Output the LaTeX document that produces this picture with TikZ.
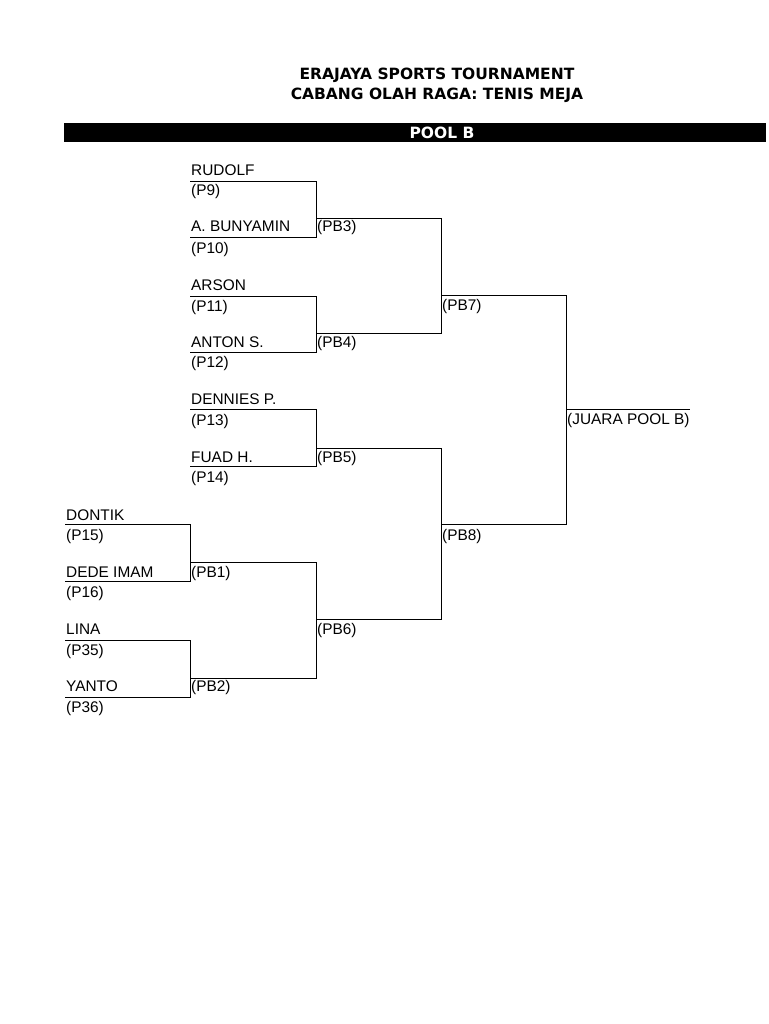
\documentclass[tikz,border=0pt]{standalone}
\usepackage{fontspec}
\setmainfont{Liberation Sans}
\newfontfamily\titlefont{DejaVu Sans}
\begin{document}
\begin{tikzpicture}[x=1pt,y=-1pt,
  lbl/.style={anchor=base west,inner sep=0pt,font=\fontsize{15.4}{18}\selectfont},
  ttl/.style={inner sep=0pt,font=\titlefont\bfseries\fontsize{15.5}{18}\selectfont},
  br/.style={line width=0.9pt,line join=miter}]
\useasboundingbox[fill=white] (0,0) rectangle (768,1024);
% title
\node[ttl] (t1) at (437,75) {ERAJAYA SPORTS TOURNAMENT};
\node[ttl] (t2) at (437,95) {CABANG OLAH RAGA: TENIS MEJA};
\fill[black] (64,123) rectangle (766,142);
\node[ttl,text=white] (pool) at (442,132.5) {POOL B};

% coordinates of bracket lines
\coordinate (a1) at (190,181); \coordinate (a2) at (316,181);
\coordinate (b1) at (190,237); \coordinate (b2) at (316,237);
\coordinate (c1) at (190,296); \coordinate (c2) at (316,296);
\coordinate (d1) at (190,352); \coordinate (d2) at (316,352);
\coordinate (e1) at (190,409); \coordinate (e2) at (316,409);
\coordinate (f1) at (190,466); \coordinate (f2) at (316,466);
\coordinate (g1) at (65,524);  \coordinate (g2) at (190,524);
\coordinate (h1) at (65,581);  \coordinate (h2) at (190,581);
\coordinate (i1) at (65,640);  \coordinate (i2) at (190,640);
\coordinate (j1) at (65,697);  \coordinate (j2) at (190,697);
\coordinate (pb1a) at (190,562); \coordinate (pb1b) at (316,562);
\coordinate (pb2a) at (190,678); \coordinate (pb2b) at (316,678);
\coordinate (pb3a) at (316,218); \coordinate (pb3b) at (441,218);
\coordinate (pb4a) at (316,333); \coordinate (pb4b) at (441,333);
\coordinate (pb5a) at (316,448); \coordinate (pb5b) at (441,448);
\coordinate (pb6a) at (316,619); \coordinate (pb6b) at (441,619);
\coordinate (pb7a) at (441,295); \coordinate (pb7b) at (566,295);
\coordinate (pb8a) at (441,524); \coordinate (pb8b) at (566,524);
\coordinate (wa) at (566,409); \coordinate (wb) at (690,409);

% brackets
\draw[br] (a1) -- (a2) -- (b2) -- (b1);
\draw[br] (c1) -- (c2) -- (d2) -- (d1);
\draw[br] (e1) -- (e2) -- (f2) -- (f1);
\draw[br] (g1) -- (g2) -- (h2) -- (h1);
\draw[br] (i1) -- (i2) -- (j2) -- (j1);
\draw[br] (pb1a) -- (pb1b) -- (pb2b) -- (pb2a);
\draw[br] (pb3a) -- (pb3b) -- (pb4b) -- (pb4a);
\draw[br] (pb5a) -- (pb5b) -- (pb6b) -- (pb6a);
\draw[br] (pb7a) -- (pb7b) -- (pb8b) -- (pb8a);
\draw[br] (wa) -- (wb);

% names
\node[lbl] (n9)  at (191,176) {RUDOLF};
\node[lbl] (p9)  at (191,196) {(P9)};
\node[lbl] (n10) at (191,232) {A. BUNYAMIN};
\node[lbl] (p10) at (191,253) {(P10)};
\node[lbl] (n11) at (191,290) {ARSON};
\node[lbl] (p11) at (191,311) {(P11)};
\node[lbl] (n12) at (191,347) {ANTON S.};
\node[lbl] (p12) at (191,367) {(P12)};
\node[lbl] (n13) at (191,404) {DENNIES P.};
\node[lbl] (p13) at (191,425) {(P13)};
\node[lbl] (n14) at (191,462) {FUAD H.};
\node[lbl] (p14) at (191,482) {(P14)};
\node[lbl] (n15) at (66,520) {DONTIK};
\node[lbl] (p15) at (66,540) {(P15)};
\node[lbl] (n16) at (66,577) {DEDE IMAM};
\node[lbl] (p16) at (66,597) {(P16)};
\node[lbl] (n35) at (66,634) {LINA};
\node[lbl] (p35) at (66,655) {(P35)};
\node[lbl] (n36) at (66,691) {YANTO};
\node[lbl] (p36) at (66,712) {(P36)};

% match labels
\node[lbl] (lpb3) at (317,232) {(PB3)};
\node[lbl] (lpb4) at (317,347) {(PB4)};
\node[lbl] (lpb5) at (317,462) {(PB5)};
\node[lbl] (lpb1) at (191,577) {(PB1)};
\node[lbl] (lpb2) at (191,691) {(PB2)};
\node[lbl] (lpb6) at (317,634) {(PB6)};
\node[lbl] (lpb7) at (442,310) {(PB7)};
\node[lbl] (lpb8) at (442,540) {(PB8)};
\node[lbl] (lw)   at (567,424) {(JUARA POOL B)};
\end{tikzpicture}
\end{document}
